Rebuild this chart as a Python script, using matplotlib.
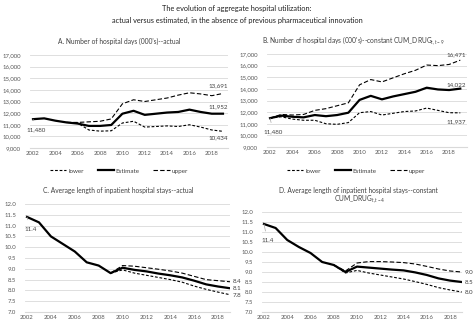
import matplotlib.pyplot as plt

plt.rcParams['font.family'] = ['Lato', 'DejaVu Sans']
plt.rcParams['mathtext.fontset'] = 'custom'
plt.rcParams['mathtext.rm'] = 'Lato'
plt.rcParams['mathtext.it'] = 'Lato:italic'

years = list(range(2002, 2020))

# A. hospital days (000's), actual
days_est = [11480, 11550, 11350, 11200, 11100, 10900, 10900, 10980, 11950,
            12200, 11850, 11950, 12050, 12100, 12300, 12100, 11950, 11952]
days_yrs_ci = list(range(2005, 2020))
days_upper = [11200, 11200, 11250, 11300, 11500, 12800, 13150, 13000, 13150,
              13300, 13550, 13750, 13650, 13500, 13691]
days_lower = [11200, 11150, 10550, 10450, 10480, 11150, 11300, 10800, 10850,
              10900, 10850, 11000, 10800, 10550, 10434]

# B. hospital days (000's), constant CUM_DRUG t,t-9
daysb_est = [11480, 11700, 11600, 11550, 11750, 11650, 11750, 11950, 13050,
             13400, 13100, 13350, 13550, 13750, 14100, 13950, 13900, 14022]
daysb_upper = [11480, 11800, 11750, 11800, 12150, 12300, 12550, 12800, 14350,
               14800, 14600, 14950, 15300, 15600, 16050, 16000, 16100, 16471]
daysb_lower = [11480, 11600, 11400, 11300, 11300, 11000, 10950, 11100, 11950,
               12050, 11750, 11900, 12050, 12100, 12350, 12150, 11950, 11937]

# C. average length of stay, actual
los_est = [11.4, 11.15, 10.5, 10.15, 9.8, 9.3, 9.15, 8.8, 9.05, 8.95, 8.88,
           8.78, 8.7, 8.6, 8.45, 8.28, 8.18, 8.1]
los_yrs_ci = list(range(2009, 2020))
los_upper = [8.8, 9.15, 9.12, 9.05, 8.98, 8.9, 8.8, 8.65, 8.5, 8.45, 8.4]
los_lower = [8.8, 8.95, 8.8, 8.7, 8.6, 8.5, 8.38, 8.2, 8.05, 7.92, 7.8]

# D. average length of stay, constant CUM_DRUG t,t-4
losd_est = [11.4, 11.2, 10.6, 10.25, 9.95, 9.5, 9.35, 9.0, 9.27, 9.22, 9.17,
            9.12, 9.08, 8.98, 8.85, 8.68, 8.57, 8.5]
losd_yrs_ci = list(range(2008, 2020))
losd_upper = [9.35, 9.05, 9.45, 9.52, 9.52, 9.5, 9.47, 9.4, 9.28, 9.15, 9.05, 9.0]
losd_lower = [9.35, 8.95, 9.08, 8.95, 8.85, 8.75, 8.65, 8.52, 8.38, 8.22, 8.1, 8.0]

TXT = '#404040'
GRID = '#d9d9d9'
LOWER_LS = (0, (2.5, 1.6))
UPPER_LS = (0, (4, 2))

W, H = 474, 322
fig = plt.figure(figsize=(W / 100, H / 100), dpi=100)


def px_axes(x0, x1, y0, y1):
    return fig.add_axes([x0 / W, 1 - y1 / H, (x1 - x0) / W, (y1 - y0) / H])


def style(ax, xlim, ylim, yticks, fmt):
    ax.set_xlim(*xlim)
    ax.set_ylim(*ylim)
    ax.set_yticks(yticks)
    ax.set_yticklabels([fmt(v) for v in yticks])
    ax.set_xticks(range(2002, 2020, 2))
    ax.grid(axis='y', color=GRID, lw=0.6)
    ax.set_axisbelow(True)
    for s in ['top', 'right', 'left']:
        ax.spines[s].set_visible(False)
    ax.spines['bottom'].set_color(GRID)
    ax.spines['bottom'].set_linewidth(0.8)
    ax.tick_params(length=0, labelsize=4.3, colors='#595959')
    ax.tick_params(axis='y', pad=6.5)
    ax.tick_params(axis='x', pad=2.5)


def draw(ax, est, yrs_ci, up, lo):
    ax.plot(yrs_ci, lo, color='black', lw=0.8, ls=LOWER_LS, label='lower')
    ax.plot(years, est, color='black', lw=1.6, label='Estimate')
    ax.plot(yrs_ci, up, color='black', lw=0.8, ls=UPPER_LS, label='upper')


def lab(ax, text, y):
    ax.text(2018.6, y, text, fontsize=4.5, color=TXT, ha='center', va='center')


def end_lab(ax, text, y):
    ax.annotate(text, xy=(ax.get_xlim()[1], y), xytext=(2, 0),
                textcoords='offset points', fontsize=4.5, color=TXT,
                ha='left', va='center', annotation_clip=False)


def first_lab(ax, text, y0, y):
    ax.annotate(text, xy=(2002, y0), xytext=(2002.3, y), fontsize=4.5, color=TXT,
                ha='center', va='center',
                arrowprops=dict(arrowstyle='-', color='#a6a6a6', lw=0.5,
                                shrinkA=3, shrinkB=0))


thou = lambda v: f'{v:,.0f}'
one = lambda v: f'{v:.1f}'

# panel A
axA = px_axes(30, 228, 55, 148)
draw(axA, days_est, days_yrs_ci, days_upper, days_lower)
style(axA, (2001.73, 2019.45), (9000, 17000), range(9000, 17001, 1000), thou)
first_lab(axA, '11,480', 11480, 10550)
lab(axA, '13,691', 14400)
lab(axA, '11,952', 12550)
lab(axA, '10,434', 9850)

# panel B
axB = px_axes(267, 467, 54, 147)
draw(axB, daysb_est, years, daysb_upper, daysb_lower)
style(axB, (2001.73, 2019.6), (9000, 17000), range(9000, 17001, 1000), thou)
first_lab(axB, '11,480', 11480, 10300)
lab(axB, '16,471', 16950)
lab(axB, '14,022', 14380)
lab(axB, '11,937', 11150)

# panel C
axC = px_axes(25, 230, 204, 312)
draw(axC, los_est, los_yrs_ci, los_upper, los_lower)
style(axC, (2001.83, 2019.0), (7.0, 12.0), [7.0 + 0.5 * i for i in range(11)], one)
first_lab(axC, '11.4', 11.4, 10.84)
for t, y in [('8.4', 8.4), ('8.1', 8.1), ('7.8', 7.75)]:
    end_lab(axC, t, y)

# panel D
axD = px_axes(262, 462, 212, 312)
draw(axD, losd_est, losd_yrs_ci, losd_upper, losd_lower)
style(axD, (2001.83, 2019.02), (7.0, 12.0), [7.0 + 0.5 * i for i in range(11)], one)
first_lab(axD, '11.4', 11.4, 10.58)
for t, y in [('9.0', 8.97), ('8.5', 8.47), ('8.0', 7.97)]:
    end_lab(axD, t, y)

# titles
fig.text(237 / W, 1 - 9 / H, 'The evolution of aggregate hospital utilization:',
         fontsize=5.3, color='#202020', ha='center', va='center')
fig.text(237 / W, 1 - 20 / H,
         'actual versus estimated, in the absence of previous pharmaceutical innovation',
         fontsize=5.3, color='#202020', ha='center', va='center')
fig.text(119 / W, 1 - 41 / H, "A. Number of hospital days (000's)--actual",
         fontsize=4.8, color=TXT, ha='center', va='center')
fig.text(353 / W, 1 - 41 / H,
         "B. Number of hospital days (000's)--constant CUM_DRUG$_{t,t-9}$",
         fontsize=4.8, color=TXT, ha='center', va='center')
fig.text(118 / W, 1 - 190 / H, 'C. Average length of inpatient hospital stays--actual',
         fontsize=4.8, color=TXT, ha='center', va='center')
fig.text(358 / W, 1 - 190 / H, 'D. Average length of inpatient hospital stays--constant',
         fontsize=4.8, color=TXT, ha='center', va='center')
fig.text(360 / W, 1 - 199 / H, 'CUM_DRUG$_{t,t-4}$',
         fontsize=4.8, color=TXT, ha='center', va='center')

# legends under the top row
for ax, cx in [(axA, 119), (axB, 356)]:
    h, l = ax.get_legend_handles_labels()
    fig.legend(h, l, loc='center', bbox_to_anchor=(cx / W, 1 - 171 / H), ncol=3,
               frameon=False, fontsize=4.5, labelcolor=TXT, handlelength=2.6,
               columnspacing=2.2, handletextpad=0.3)

fig.savefig('out.png', dpi=100, facecolor='white')
